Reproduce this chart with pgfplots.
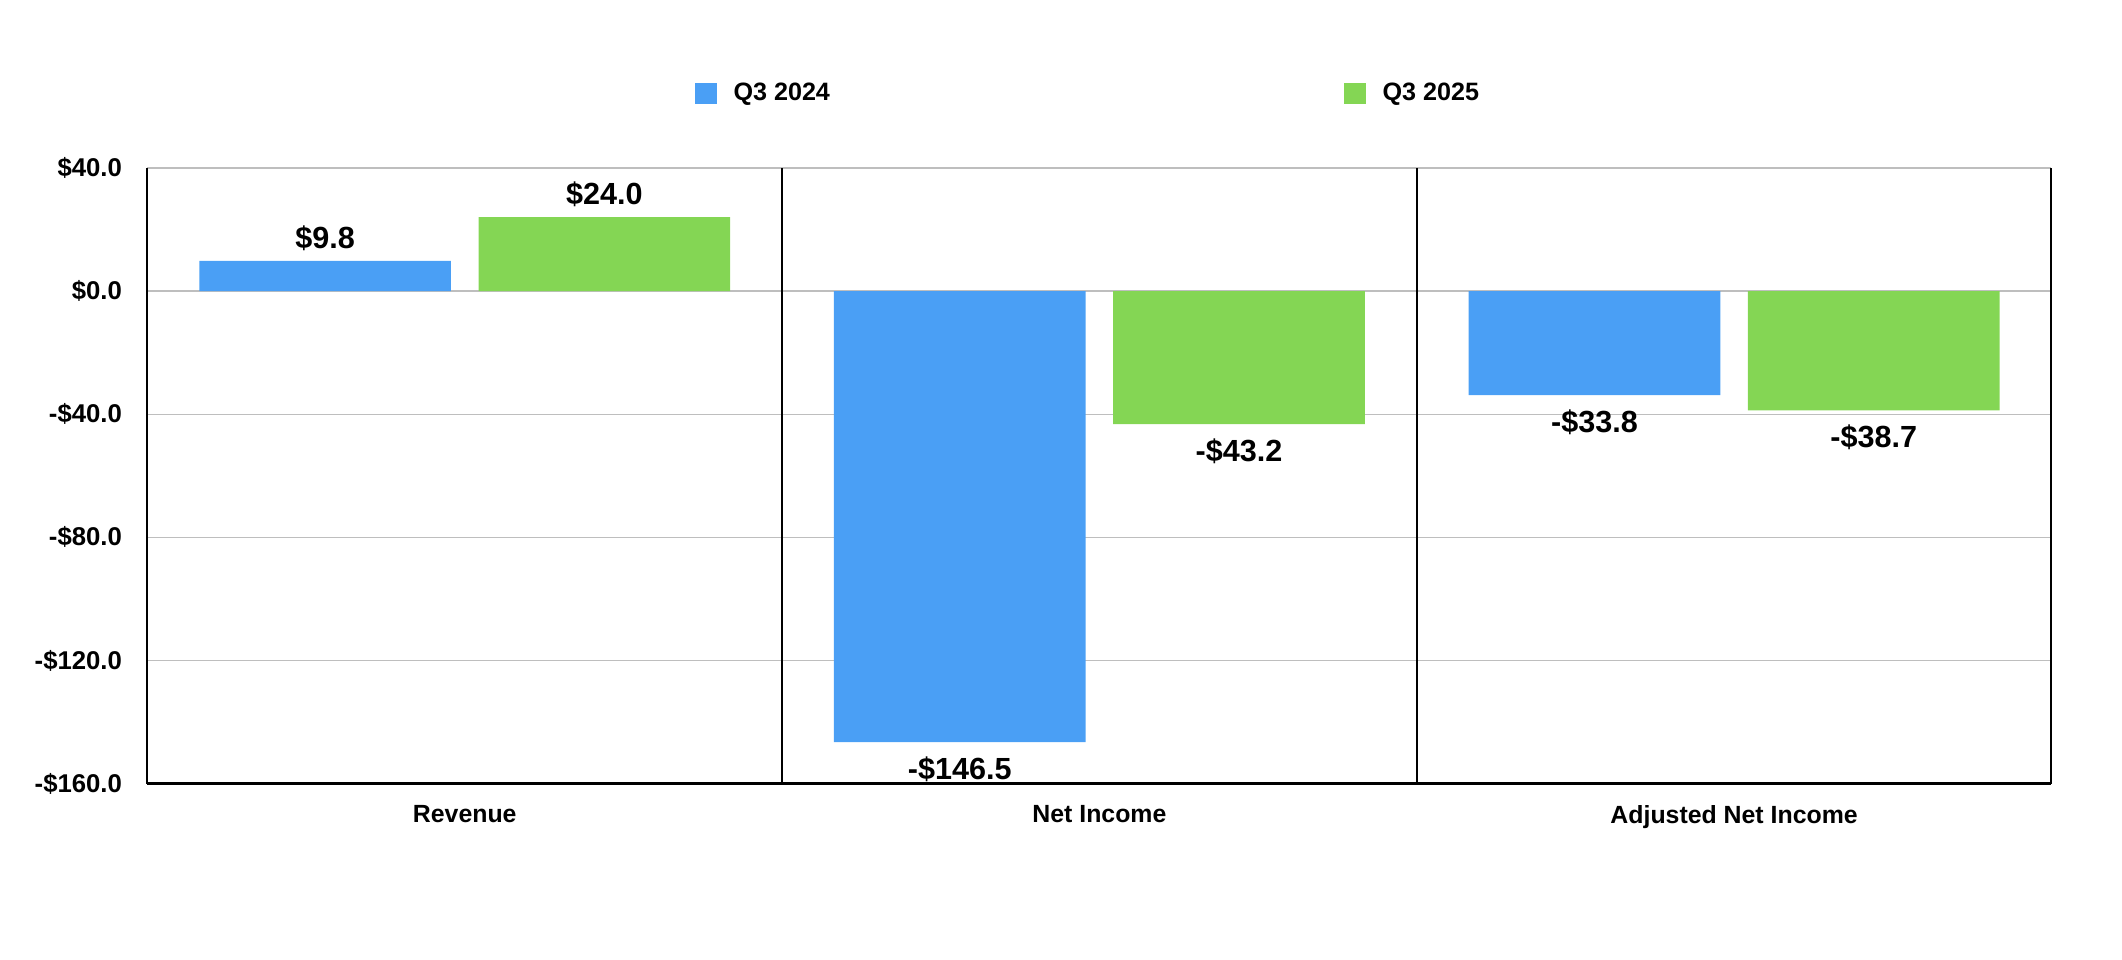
\documentclass[border=0pt]{standalone}
\usepackage{fontspec}
\setmainfont{Liberation Sans}
\usepackage{pgfplots}
\pgfplotsset{compat=1.18}
\definecolor{cblue}{HTML}{4A9FF5}
\definecolor{cgreen}{HTML}{84D654}
\definecolor{cgrid}{HTML}{BEBEBE}
\begin{document}
\begin{tikzpicture}
\useasboundingbox (0,0) rectangle (742.7pt,336pt);
\begin{axis}[
  at={(51.6pt,61.7pt)}, anchor=south west,
  scale only axis, width=666.4pt, height=215.5pt,
  ybar, bar width=0.3966,
  xmin=-0.5, xmax=2.5, ymin=-160, ymax=40,
  xtick={0,1,2}, xticklabels={Revenue,Net Income,Adjusted Net Income},
  ytick={-160,-120,-80,-40,0,40},
  yticklabels={-\$160.0,-\$120.0,-\$80.0,-\$40.0,\$0.0,\$40.0},
  ymajorgrids, major grid style={cgrid, line width=0.5pt},
  axis x line*=bottom, axis y line*=left,
  x axis line style={black, line width=1pt, -}, y axis line style={black,line width=0.7pt,-},
  major tick length=0pt,
  tick label style={font=\fontsize{8.7}{10}\selectfont\bfseries},
  xticklabel style={yshift=-4pt},
  yticklabel style={xshift=-5.4pt, font=\fontsize{9}{10}\selectfont\bfseries},
  extra x ticks={0.5,1.5,2.5}, extra x tick labels={},
  extra x tick style={grid=major, major grid style={black, line width=0.7pt}},
  nodes near coords, point meta=explicit symbolic,
  visualization depends on={rawy \as \rawy},
  every node near coord/.append style={font=\fontsize{10.7}{12}\selectfont\bfseries,
    anchor={\ifdim\rawy pt<0pt north\else south\fi},
    yshift={-1.6*(\rawy<0)}},
  legend style={at={(0.5,1)}, anchor=south, yshift=18pt, xshift=-3.3pt, draw=none, legend columns=2,
    font=\fontsize{8.8}{10}\selectfont\bfseries,
    /tikz/every odd column/.append style={column sep=3.8pt},
    /tikz/every even column/.append style={column sep=178pt}},
]
\addplot[fill=cblue, draw=none, bar shift=-0.22,
  legend image code/.code={\fill[cblue] (0pt,-3.8pt) rectangle (7.6pt,3.8pt);}]
  coordinates {(0,9.8)[\$9.8] (1,-146.5)[-\$146.5] (2,-33.8)[-\$33.8]};
\addplot[fill=cgreen, draw=none, bar shift=0.22,
  legend image code/.code={\fill[cgreen] (0pt,-3.8pt) rectangle (7.6pt,3.8pt);}]
  coordinates {(0,24.0)[\$24.0] (1,-43.2)[-\$43.2] (2,-38.7)[-\$38.7]};
\legend{Q3 2024, Q3 2025}
\end{axis}
\end{tikzpicture}
\end{document}
